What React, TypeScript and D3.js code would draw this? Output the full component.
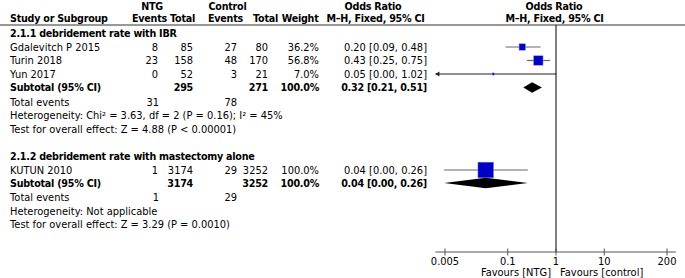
import React from "react";
import * as d3 from "d3";

// ---------- data ----------
const studies = ["Gdalevitch P 2015", "Turin 2018", "Yun 2017", "KUTUN 2010"];
const studyGroup = [0, 0, 0, 1];
const ntgEvents = [8, 23, 0, 1];
const ntgTotal = [85, 158, 52, 3174];
const ctrlEvents = [27, 48, 3, 29];
const ctrlTotal = [80, 170, 21, 3252];
const weights = [36.2, 56.8, 7.0, 100.0];
const orValues = [0.2, 0.43, 0.05, 0.035];
const ciLow = [0.09, 0.25, 0.002, 0.0048];
const ciHigh = [0.48, 0.75, 1.02, 0.26];
const ciLabels = ["0.20 [0.09, 0.48]", "0.43 [0.25, 0.75]", "0.05 [0.00, 1.02]", "0.04 [0.00, 0.26]"];

const groupTitles = ["2.1.1 debridement rate with IBR", "2.1.2 debridement rate with mastectomy alone"];
const subNtgTotal = [295, 3174];
const subCtrlTotal = [271, 3252];
const subWeight = ["100.0%", "100.0%"];
const subOr = [0.32, 0.035];
const subLow = [0.21, 0.0048];
const subHigh = [0.51, 0.26];
const subLabels = ["0.32 [0.21, 0.51]", "0.04 [0.00, 0.26]"];
const subNtgEvents = [31, 1];
const subCtrlEvents = [78, 29];
const heterogeneity = [
  "Heterogeneity: Chi² = 3.63, df = 2 (P = 0.16); I² = 45%",
  "Heterogeneity: Not applicable",
];
const overallTest = [
  "Test for overall effect: Z = 4.88 (P < 0.00001)",
  "Test for overall effect: Z = 3.29 (P = 0.0010)",
];
const axisTicks = [0.005, 0.1, 1, 10, 200];
const tickLabels = ["0.005", "0.1", "1", "10", "200"];

// ---------- layout ----------
const W = 685;
const H = 278;
const FONT = "'DejaVu Sans', sans-serif";
const FS = 9.9;
const BFS = 9.6;
const BLS = -0.25;
const x = d3.scaleLog().domain([0.005, 200]).range([445, 667]);
const axisDomain = [0.00316, 305];
const sizeScale = d3.scaleLinear().domain([0, 100]).range([1.2, 15.7]);
const BL = 3.6;

const col = { study: 10, ntgE: 158, ntgT: 193, ctE: 237, ctT: 268, wt: 319, ci: 427 };

const groupTop = [33, 156];
const studyRowY = (i: number) => {
  const g = studyGroup[i];
  const idx = studyGroup.slice(0, i).filter((v) => v === g).length;
  return groupTop[g] + 14 + idx * 13.5;
};

export default function App() {
  const rows: React.ReactNode[] = [];
  const txt = (
    key: string,
    xx: number,
    yc: number,
    s: string | number,
    anchor: "start" | "end" | "middle" = "end",
    bold = false
  ) => (
    <text
      key={key}
      x={xx}
      y={yc + BL}
      textAnchor={anchor}
      fontWeight={bold ? "bold" : "normal"}
      fontSize={bold ? BFS : FS}
      letterSpacing={bold ? BLS : 0}
    >
      {s}
    </text>
  );

  studies.forEach((s, i) => {
    const y = studyRowY(i);
    rows.push(txt(`s${i}`, col.study, y, s, "start"));
    rows.push(txt(`ne${i}`, col.ntgE, y, ntgEvents[i]));
    rows.push(txt(`nt${i}`, col.ntgT, y, ntgTotal[i]));
    rows.push(txt(`ce${i}`, col.ctE, y, ctrlEvents[i]));
    rows.push(txt(`ct${i}`, col.ctT, y, ctrlTotal[i]));
    rows.push(txt(`w${i}`, col.wt, y, weights[i].toFixed(1) + "%"));
    rows.push(txt(`ci${i}`, col.ci, y, ciLabels[i]));
  });

  const marks: React.ReactNode[] = [];
  studies.forEach((s, i) => {
    const y = studyRowY(i);
    const clippedLow = ciLow[i] < axisDomain[0];
    const x1 = clippedLow ? x(axisDomain[0]) : x(ciLow[i]);
    const x2 = x(Math.min(ciHigh[i], axisDomain[1]));
    marks.push(
      <line key={`l${i}`} x1={x1} x2={x2} y1={y} y2={y} stroke={clippedLow ? "#222" : "#666"} strokeWidth={1.2} />
    );
    if (clippedLow) {
      marks.push(<path key={`a${i}`} d={`M${x1},${y} l4,-2.5 l0,5 z`} fill="#222" />);
    }
    const sz = sizeScale(weights[i]);
    marks.push(
      <rect
        key={`r${i}`}
        x={x(orValues[i]) - sz / 2}
        y={y - sz / 2}
        width={sz}
        height={sz}
        fill="#0000c4"
        stroke="#8f8fe8"
        strokeWidth={0.5}
      />
    );
  });

  groupTitles.forEach((t, g) => {
    const top = groupTop[g];
    const nStud = studyGroup.filter((v) => v === g).length;
    const subY = top + 14 + nStud * 13.5 - (g === 1 ? 0.5 : 0);
    rows.push(txt(`gt${g}`, col.study, top, t, "start", true));
    rows.push(txt(`sl${g}`, col.study, subY, "Subtotal (95% CI)", "start", true));
    rows.push(txt(`snt${g}`, col.ntgT, subY, subNtgTotal[g], "end", true));
    rows.push(txt(`sct${g}`, col.ctT, subY, subCtrlTotal[g], "end", true));
    rows.push(txt(`sw${g}`, col.wt, subY, subWeight[g], "end", true));
    rows.push(txt(`sci${g}`, col.ci, subY, subLabels[g], "end", true));
    const teY = subY + 14.5;
    rows.push(txt(`te${g}`, col.study, teY, "Total events", "start"));
    rows.push(txt(`ten${g}`, col.ntgE + 1, teY, subNtgEvents[g]));
    rows.push(txt(`tec${g}`, col.ctE, teY, subCtrlEvents[g]));
    rows.push(txt(`he${g}`, col.study, teY + 13.5, heterogeneity[g], "start"));
    rows.push(txt(`ov${g}`, col.study, teY + 27, overallTest[g], "start"));

    const xl = x(subLow[g]);
    const xr = x(subHigh[g]);
    const xc = x(subOr[g]);
    const hh = 5.3;
    marks.push(
      <path
        key={`d${g}`}
        d={`M${xl},${subY} L${xc},${subY - hh} L${xr},${subY} L${xc},${subY + hh} Z`}
        fill="#000"
      />
    );
  });

  const axisY = 252;
  return (
    <svg
      width={W}
      height={H}
      style={{ position: "absolute", left: 0, top: 0, background: "#fff" }}
      fontFamily={FONT}
      fontSize={FS}
      fill="#000"
    >
      <g fontWeight="bold" fontSize={BFS} letterSpacing={BLS}>
        <text x={152} y={6 + BL} textAnchor="middle">NTG</text>
        <text x={227.5} y={6 + BL} textAnchor="middle">Control</text>
        <text x={373} y={6 + BL} textAnchor="middle">Odds Ratio</text>
        <text x={554} y={6 + BL} textAnchor="middle">Odds Ratio</text>
        <text x={col.study} y={18.5 + BL}>Study or Subgroup</text>
        <text x={167} y={18.5 + BL} textAnchor="end">Events</text>
        <text x={195} y={18.5 + BL} textAnchor="end">Total</text>
        <text x={243} y={18.5 + BL} textAnchor="end">Events</text>
        <text x={278} y={18.5 + BL} textAnchor="end">Total</text>
        <text x={318.5} y={18.5 + BL} textAnchor="end">Weight</text>
        <text x={375.5} y={18.5 + BL} textAnchor="middle">M–H, Fixed, 95% CI</text>
        <text x={554.5} y={18.5 + BL} textAnchor="middle">M–H, Fixed, 95% CI</text>
      </g>
      <line x1={0} x2={W} y1={25} y2={25} stroke="#333" strokeWidth={1} />
      {rows}
      <line x1={x(1)} x2={x(1)} y1={25} y2={axisY} stroke="#000" strokeWidth={1} />
      {marks}
      <line x1={x(axisDomain[0])} x2={x(axisDomain[1])} y1={axisY} y2={axisY} stroke="#555" strokeWidth={1} />
      {axisTicks.map((t, i) => (
        <g key={`t${i}`}>
          <line x1={x(t)} x2={x(t)} y1={axisY - 3.5} y2={axisY + 3.5} stroke="#555" />
          <text x={x(t)} y={261 + BL} textAnchor="middle">{tickLabels[i]}</text>
        </g>
      ))}
      <text x={551} y={275.5} textAnchor="end">Favours [NTG]</text>
      <text x={560} y={275.5} textAnchor="start">Favours [control]</text>
    </svg>
  );
}
